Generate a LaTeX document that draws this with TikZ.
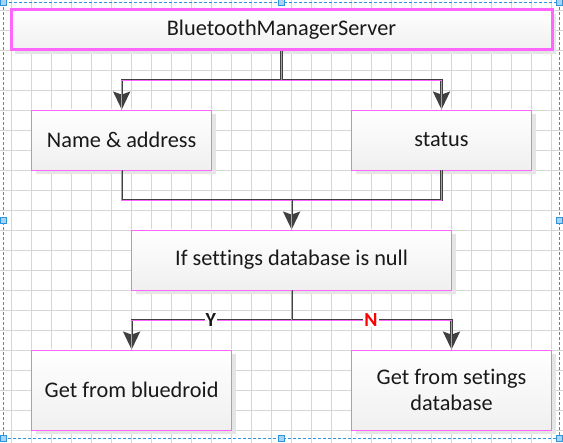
\documentclass[tikz,border=0pt]{standalone}
\usepackage{fontspec}
\setmainfont{Carlito}[Ligatures=NoCommon]
\usetikzlibrary{arrows.meta,shadows}
\usetikzlibrary{positioning}
\definecolor{boxpink}{HTML}{FF66FF}
\definecolor{linegray}{HTML}{404040}
\definecolor{gridgray}{HTML}{D6D6D6}
\definecolor{selblue}{HTML}{2E95DC}
\definecolor{handleblue}{HTML}{A9D3F5}
\definecolor{nored}{HTML}{FF0000}

\begin{document}
\begin{tikzpicture}[x=1pt,y=-1pt,>={Stealth[length=18pt,width=17pt,inset=3pt]},
  font=\fontsize{22.3}{26}\selectfont, text=black!90]
  \tikzstyle{block}=[draw=boxpink, line width=0.8pt, top color=white, bottom color=black!6,
    minimum height=60pt, inner sep=0pt, align=center,
    drop shadow={shadow xshift=4pt, shadow yshift=-4pt, fill=black!10, opacity=1}]
  \tikzstyle{link}=[draw=boxpink, line width=0.7pt, preaction={draw=linegray, line width=2.2pt}]
  \tikzstyle{linkto}=[draw=boxpink, line width=0.7pt, preaction={draw=linegray, line width=2.2pt, ->}]
  \tikzstyle{yn}=[fill=white, inner sep=1pt, font=\fontsize{20}{20}\selectfont\bfseries]
  \tikzstyle{handle}=[draw=selblue, fill=handleblue, line width=0.6pt, minimum size=6pt, inner sep=0pt]
  \useasboundingbox (0,0) rectangle (563,443);
  % background grid
  \foreach \gx in {11.5,31.5,...,551.5} \draw[gridgray, line width=0.8pt] (\gx,0) -- (\gx,443);
  \foreach \gy in {10,30,...,430} \draw[gridgray, line width=0.8pt] (0,\gy) -- (563,\gy);
  % selection frame
  \draw[selblue, line width=0.7pt, dash pattern=on 3pt off 2pt] (3.3,2.5) rectangle (559.5,438);

  \node[block, line width=3pt, minimum width=541pt, minimum height=40pt] (server) at (281.5,30) {BluetoothManagerServer};
  \node[block, minimum width=180pt] (name)   at (121.7,140) {Name \& address};
  \node[block, minimum width=180pt] (status) at (441.5,140) {status};
  \node[block, minimum width=320pt] (cond)   at (291.6,260) {If settings database is null};
  \node[block, minimum width=200pt, minimum height=80pt] (blue) at (131.6,390) {Get from bluedroid};
  \node[block, minimum width=200pt, minimum height=80pt] (db)   at (451.5,390) {Get from setings\\database};

  \coordinate (split) at (281.5,80);
  \coordinate (merge) at (291.6,200);
  \coordinate (fork)  at (291.6,320);
  \draw[linkto] (server.south) -- (split) -| (name.north);
  \draw[linkto] (split) -| (status.north);
  \draw[link] (name.south) |- (merge);
  \draw[link] (status.south) |- (merge);
  \draw[linkto] (merge) -- (cond.north);
  \draw[linkto] (cond.south) -- (fork) -| (blue.north);
  \draw[linkto] (fork) -| (db.north);
  \node[yn] (yes) at (210.7,320) {Y};
  \node[yn, text=nored] (no) at (371,320) {N};

  % handles
  \node[handle] (h1) at (3.3,2.5) {};
  \node[handle] (h2) at (281.5,2.5) {};
  \node[handle] (h3) at (559.5,2.5) {};
  \node[handle] (h4) at (3.3,220) {};
  \node[handle] (h5) at (559.5,220) {};
  \node[handle] (h6) at (3.3,438) {};
  \node[handle] (h7) at (281.5,438) {};
  \node[handle] (h8) at (559.5,438) {};
\end{tikzpicture}
\end{document}
